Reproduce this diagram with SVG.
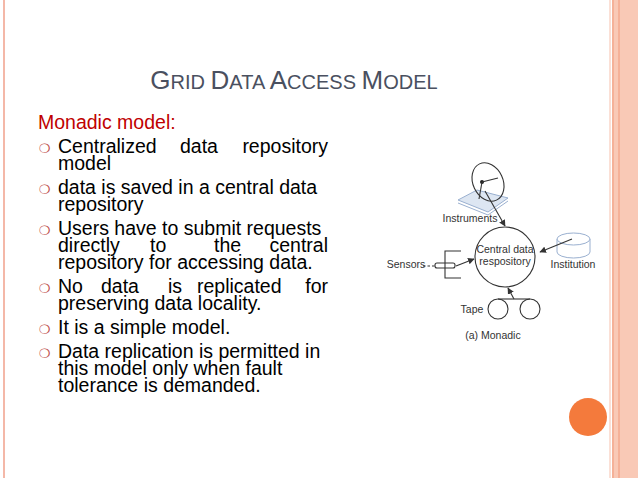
<svg xmlns="http://www.w3.org/2000/svg" width="638" height="478" viewBox="0 0 638 478">
<style>
.t{font-family:"Liberation Sans",Arial,sans-serif;font-size:19.5px;fill:#000}
.b{font-family:"DejaVu Sans",sans-serif;font-size:13px;fill:#c0504d}
.d{font-family:"Liberation Sans",Arial,sans-serif;font-size:10.5px;fill:#333}
.s{fill:none;stroke:#333;stroke-width:1.1}
</style>
<defs><marker id="a" viewBox="0 0 10 10" refX="9" refY="5" markerWidth="6" markerHeight="6" orient="auto"><path d="M0,0L10,5L0,10z" fill="#333"/></marker></defs>
<rect width="638" height="478" fill="#fff"/>
<line x1="4" y1="0" x2="4" y2="478" stroke="#f4b8a8" stroke-width="2"/>
<rect x="612" y="0" width="26" height="478" fill="#f9c9b6"/>
<line x1="613" y1="0" x2="613" y2="478" stroke="#f3a88e" stroke-width="1.5"/>
<line x1="619" y1="0" x2="619" y2="478" stroke="#f3a88e" stroke-width="1.5"/>
<rect x="609" y="0" width="2" height="478" fill="#fbe0d6"/>
<circle cx="588" cy="417" r="19" fill="#f47a3c"/>
<text x="294" y="89" text-anchor="middle" font-family="Liberation Sans,Arial,sans-serif" fill="#4a5060" font-size="20"><tspan font-size="26">G</tspan>RID <tspan font-size="26">D</tspan>ATA <tspan font-size="26">A</tspan>CCESS <tspan font-size="26">M</tspan>ODEL</text>
<text class="t" x="38" y="129" style="fill:#c00000">Monadic model:</text>
<g id="bullets">
<text class="b" x="39" y="153">❍</text><text class="b" x="39" y="194">❍</text><text class="b" x="39" y="235">❍</text><text class="b" x="39" y="293">❍</text><text class="b" x="39" y="334">❍</text><text class="b" x="39" y="358">❍</text>
</g>
<g id="text">
<text class="t" y="153"><tspan x="58">Centralized</tspan><tspan x="180">data</tspan><tspan x="328" text-anchor="end">repository</tspan></text>
<text class="t" x="58" y="170">model</text>
<text class="t" x="58" y="194">data is saved in a central data</text>
<text class="t" x="58" y="211">repository</text>
<text class="t" x="58" y="235">Users have to submit requests</text>
<text class="t" y="252"><tspan x="58">directly</tspan><tspan x="150">to</tspan><tspan x="214">the</tspan><tspan x="328" text-anchor="end">central</tspan></text>
<text class="t" x="58" y="269">repository for accessing data.</text>
<text class="t" y="293"><tspan x="58">No</tspan><tspan x="101">data</tspan><tspan x="168">is</tspan><tspan x="197">replicated</tspan><tspan x="328" text-anchor="end">for</tspan></text>
<text class="t" x="58" y="310">preserving data  locality.</text>
<text class="t" x="58" y="334">It is a simple model.</text>
<text class="t" x="58" y="358">Data replication is permitted in</text>
<text class="t" x="58" y="375">this model only when fault</text>
<text class="t" x="58" y="392">tolerance is demanded.</text>
</g>
<g id="central"><ellipse class="s" cx="505" cy="257" rx="30" ry="30"/><text class="d" x="505" y="253" text-anchor="middle">Central data</text><text class="d" x="505" y="265" text-anchor="middle">respository</text></g>
<g id="instruments">
<path d="M458,200L477,190L508,198L488,212Z" fill="#dde6f2" stroke="#9ab0d0"/>
<path d="M458,203L488,215L508,201" fill="none" stroke="#9ab0d0"/>
<ellipse class="s" cx="488" cy="182" rx="15" ry="20" transform="rotate(-25 488 182)"/>
<circle cx="482" cy="182" r="2" fill="#222"/><line class="s" x1="482" y1="182" x2="498" y2="178"/><line class="s" x1="482" y1="182" x2="479" y2="199"/>
<text class="d" x="470" y="222" text-anchor="middle">Instruments</text></g>
<g id="institution">
<path d="M557,239V252A16.5,6 0 0 0 590,252V239" fill="#fff" stroke="#9ab0d0"/>
<ellipse cx="573.5" cy="239" rx="16.5" ry="6" fill="#fff" stroke="#9ab0d0"/>
<text class="d" x="573" y="268" text-anchor="middle">Institution</text></g>
<g id="sensors">
<text class="d" x="406" y="268" text-anchor="middle">Sensors</text>
<rect class="s" x="435" y="263" width="20" height="5" rx="2"/>
<path class="s" d="M461,251H445V278H461"/>
</g>
<g id="tape"><circle class="s" cx="498" cy="309" r="10"/><circle class="s" cx="530" cy="309" r="10"/><line class="s" x1="498" y1="299" x2="530" y2="299"/><text class="d" x="472" y="313" text-anchor="middle">Tape</text></g>
<text class="d" x="493" y="339" text-anchor="middle">(a) Monadic</text>
<g id="connectors" class="s">
<line x1="485" y1="191" x2="505" y2="226" marker-end="url(#a)"/>
<line x1="572" y1="239" x2="540" y2="252" marker-end="url(#a)"/>
<line x1="456" y1="266" x2="474" y2="259" marker-end="url(#a)"/>
<line x1="423" y1="266" x2="435" y2="266" stroke-dasharray="2.5,2"/>
<line x1="514" y1="299" x2="508" y2="288" marker-end="url(#a)"/>
</g>
</svg>
